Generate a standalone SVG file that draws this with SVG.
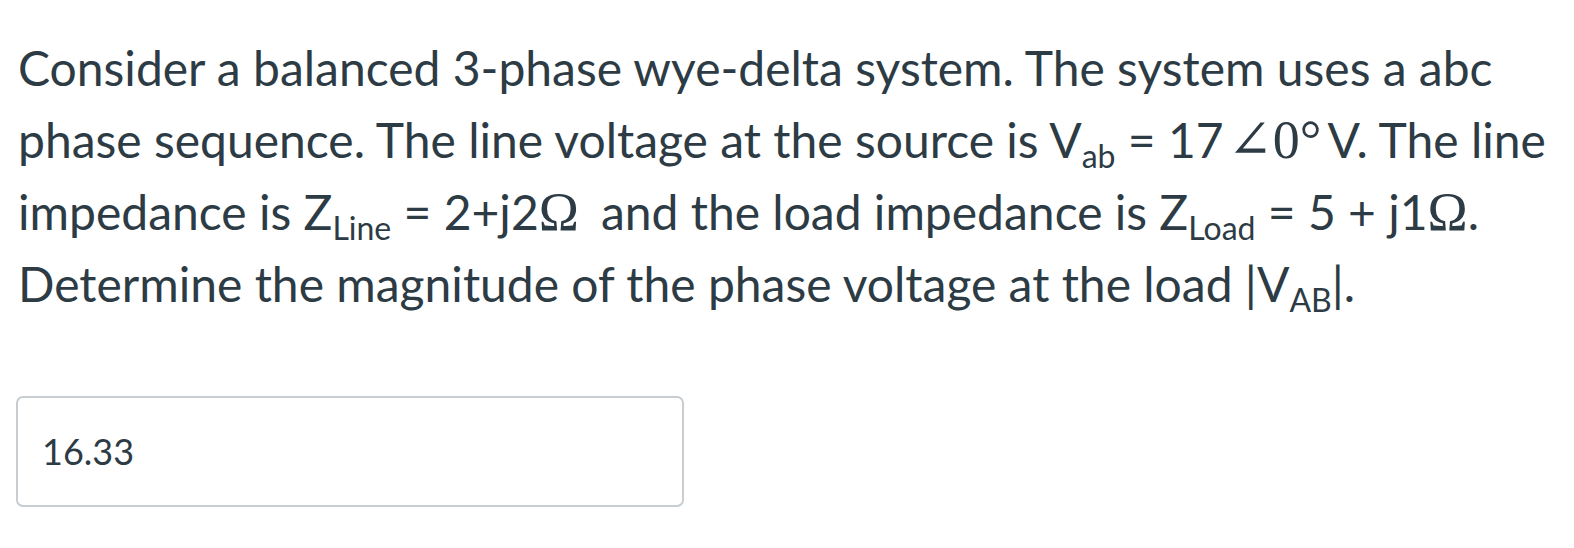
<svg xmlns="http://www.w3.org/2000/svg" width="1574" height="548" viewBox="0 0 1574 548">
<style>
.t{font-family:Lato,"Open Sans","Liberation Sans",sans-serif;font-size:48px;fill:#2d3b45}
.s{font-size:32px}
.m{font-family:"Liberation Serif","DejaVu Serif",serif;font-size:54px}
</style>
<rect width="1574" height="548" fill="#fff"/>
<g id="question">
<text class="t" x="18" y="86">Consider a balanced 3-phase wye-delta system. The system uses a abc</text>
<text class="t" x="18" y="158">phase sequence. The line voltage at the source is V<tspan class="s" dy="10">ab</tspan><tspan dy="-10"> = 17</tspan><tspan class="m" dx="4">∠0°</tspan><tspan dx="6">V. The line</tspan></text>
<text class="t" x="18" y="230">impedance is Z<tspan class="s" dy="10">Line</tspan><tspan dy="-10"> = 2+j2</tspan><tspan class="m">Ω</tspan><tspan dx="22">and the load impedance is Z</tspan><tspan class="s" dy="10">Load</tspan><tspan dy="-10"> = 5 + j1</tspan><tspan class="m">Ω</tspan>.</text>
<text class="t" x="18" y="302">Determine the magnitude of the phase voltage at the load |V<tspan class="s" dy="10">AB</tspan><tspan dy="-10">|.</tspan></text>
</g>
<g id="answer">
<rect x="17" y="397" width="666" height="109" rx="6" fill="#fff" stroke="#c7cdd1" stroke-width="2"/>
<text class="t" x="42" y="465" style="font-size:36px">16.33</text>
</g>
</svg>
